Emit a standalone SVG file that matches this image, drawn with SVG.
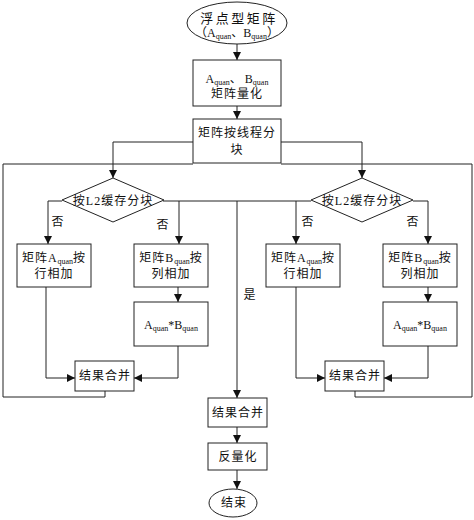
<svg xmlns="http://www.w3.org/2000/svg" width="474" height="520" viewBox="0 0 474 520">
<style>
.n{fill:#fff;stroke:#222;stroke-width:1}
.c{fill:none;stroke:#222;stroke-width:1}
text{font-family:"Liberation Serif","Noto Sans CJK SC",serif;font-size:12px;fill:#111;text-anchor:middle;letter-spacing:1px}
.s{font-size:8px;letter-spacing:0}
.l{font-size:13px;letter-spacing:1px}
.t{letter-spacing:0}
</style>
<defs>
<marker id="a" viewBox="0 0 8 8" refX="8" refY="4" markerWidth="8" markerHeight="8" markerUnits="userSpaceOnUse" orient="auto">
<path d="M0,0 L8,4 L0,8 z" fill="#111"/>
</marker>
</defs>
<rect width="474" height="520" fill="#fff"/>
<g id="connectors">
<path class="c" d="M237,44 V60" marker-end="url(#a)"/>
<path class="c" d="M237,106 V119" marker-end="url(#a)"/>
<path class="c" d="M193,142 H113 V178" marker-end="url(#a)"/>
<path class="c" d="M281,142 H362 V178" marker-end="url(#a)"/>
<path class="c" d="M62,201 H48 V244" marker-end="url(#a)"/>
<path class="c" d="M163,201 H311"/>
<path class="c" d="M179,201 V244" marker-end="url(#a)"/>
<path class="c" d="M296,201 V244" marker-end="url(#a)"/>
<path class="c" d="M237,201 V398" marker-end="url(#a)"/>
<path class="c" d="M413,201 H428 V244" marker-end="url(#a)"/>
<path class="c" d="M178,287 V302" marker-end="url(#a)"/>
<path class="c" d="M428,287 V302" marker-end="url(#a)"/>
<path class="c" d="M46,287 V378 H75" marker-end="url(#a)"/>
<path class="c" d="M178,346 V378 H134" marker-end="url(#a)"/>
<path class="c" d="M296,287 V378 H325" marker-end="url(#a)"/>
<path class="c" d="M428,346 V378 H384" marker-end="url(#a)"/>
<path class="c" d="M105,391 V397 H3 V164 H193"/>
<path class="c" d="M355,391 V397 H472 V164 H281"/>
<path class="c" d="M237,427 V443" marker-end="url(#a)"/>
<path class="c" d="M237,470 V489" marker-end="url(#a)"/>
<text x="58" y="226">否</text>
<text x="163" y="229">否</text>
<text x="308" y="226">否</text>
<text x="413" y="226">否</text>
<text x="250" y="299">是</text>
</g>
<g id="start">
<ellipse class="n" cx="237" cy="23" rx="50" ry="21"/>
<text class="l" x="239" y="23" style="letter-spacing:2.5px">浮点型矩阵</text>
<text class="t" x="237" y="37">（A<tspan class="s" dy="2">quan</tspan><tspan dy="-2">、B</tspan><tspan class="s" dy="2">quan</tspan><tspan dy="-2">）</tspan></text>
</g>
<g id="quantize">
<rect class="n" x="193" y="60" width="88" height="46"/>
<text class="t" x="237" y="83">A<tspan class="s" dy="2">quan</tspan><tspan dy="-2">、 B</tspan><tspan class="s" dy="2">quan</tspan></text>
<text x="237" y="98">矩阵量化</text>
</g>
<g id="split">
<rect class="n" x="193" y="119" width="88" height="44"/>
<text x="237" y="137">矩阵按线程分</text>
<text x="237" y="154">块</text>
</g>
<g id="d1">
<polygon class="n" points="113,178 164,200 113,222 62,200"/>
<text x="113" y="205">按L2缓存分块</text>
</g>
<g id="d2">
<polygon class="n" points="362,178 413,200 362,222 311,200"/>
<text x="362" y="205">按L2缓存分块</text>
</g>
<g id="rowA1">
<rect class="n" x="17" y="244" width="74" height="43"/>
<text x="54" y="262">矩阵A<tspan class="s" dy="2">quan</tspan><tspan dy="-2">按</tspan></text>
<text x="54" y="278">行相加</text>
</g>
<g id="colB1">
<rect class="n" x="134" y="244" width="74" height="43"/>
<text x="171" y="262">矩阵B<tspan class="s" dy="2">quan</tspan><tspan dy="-2">按</tspan></text>
<text x="171" y="278">列相加</text>
</g>
<g id="rowA2">
<rect class="n" x="266" y="244" width="74" height="43"/>
<text x="303" y="262">矩阵A<tspan class="s" dy="2">quan</tspan><tspan dy="-2">按</tspan></text>
<text x="303" y="278">行相加</text>
</g>
<g id="colB2">
<rect class="n" x="383" y="244" width="74" height="43"/>
<text x="420" y="262">矩阵B<tspan class="s" dy="2">quan</tspan><tspan dy="-2">按</tspan></text>
<text x="420" y="278">列相加</text>
</g>
<g id="mul1">
<rect class="n" x="134" y="302" width="74" height="44"/>
<text class="t" x="171" y="329">A<tspan class="s" dy="2">quan</tspan><tspan dy="-2">*B</tspan><tspan class="s" dy="2">quan</tspan></text>
</g>
<g id="mul2">
<rect class="n" x="383" y="302" width="74" height="44"/>
<text class="t" x="420" y="329">A<tspan class="s" dy="2">quan</tspan><tspan dy="-2">*B</tspan><tspan class="s" dy="2">quan</tspan></text>
</g>
<g id="merge1">
<rect class="n" x="75" y="361" width="59" height="30"/>
<text x="105" y="380">结果合并</text>
</g>
<g id="merge2">
<rect class="n" x="325" y="361" width="59" height="30"/>
<text x="355" y="380">结果合并</text>
</g>
<g id="merge">
<rect class="n" x="208" y="398" width="59" height="29"/>
<text x="238" y="417">结果合并</text>
</g>
<g id="dequant">
<rect class="n" x="208" y="443" width="59" height="27"/>
<text x="238" y="461">反量化</text>
</g>
<g id="end">
<ellipse class="n" cx="233" cy="503" rx="24" ry="14"/>
<text x="234" y="507">结束</text>
</g>
</svg>
